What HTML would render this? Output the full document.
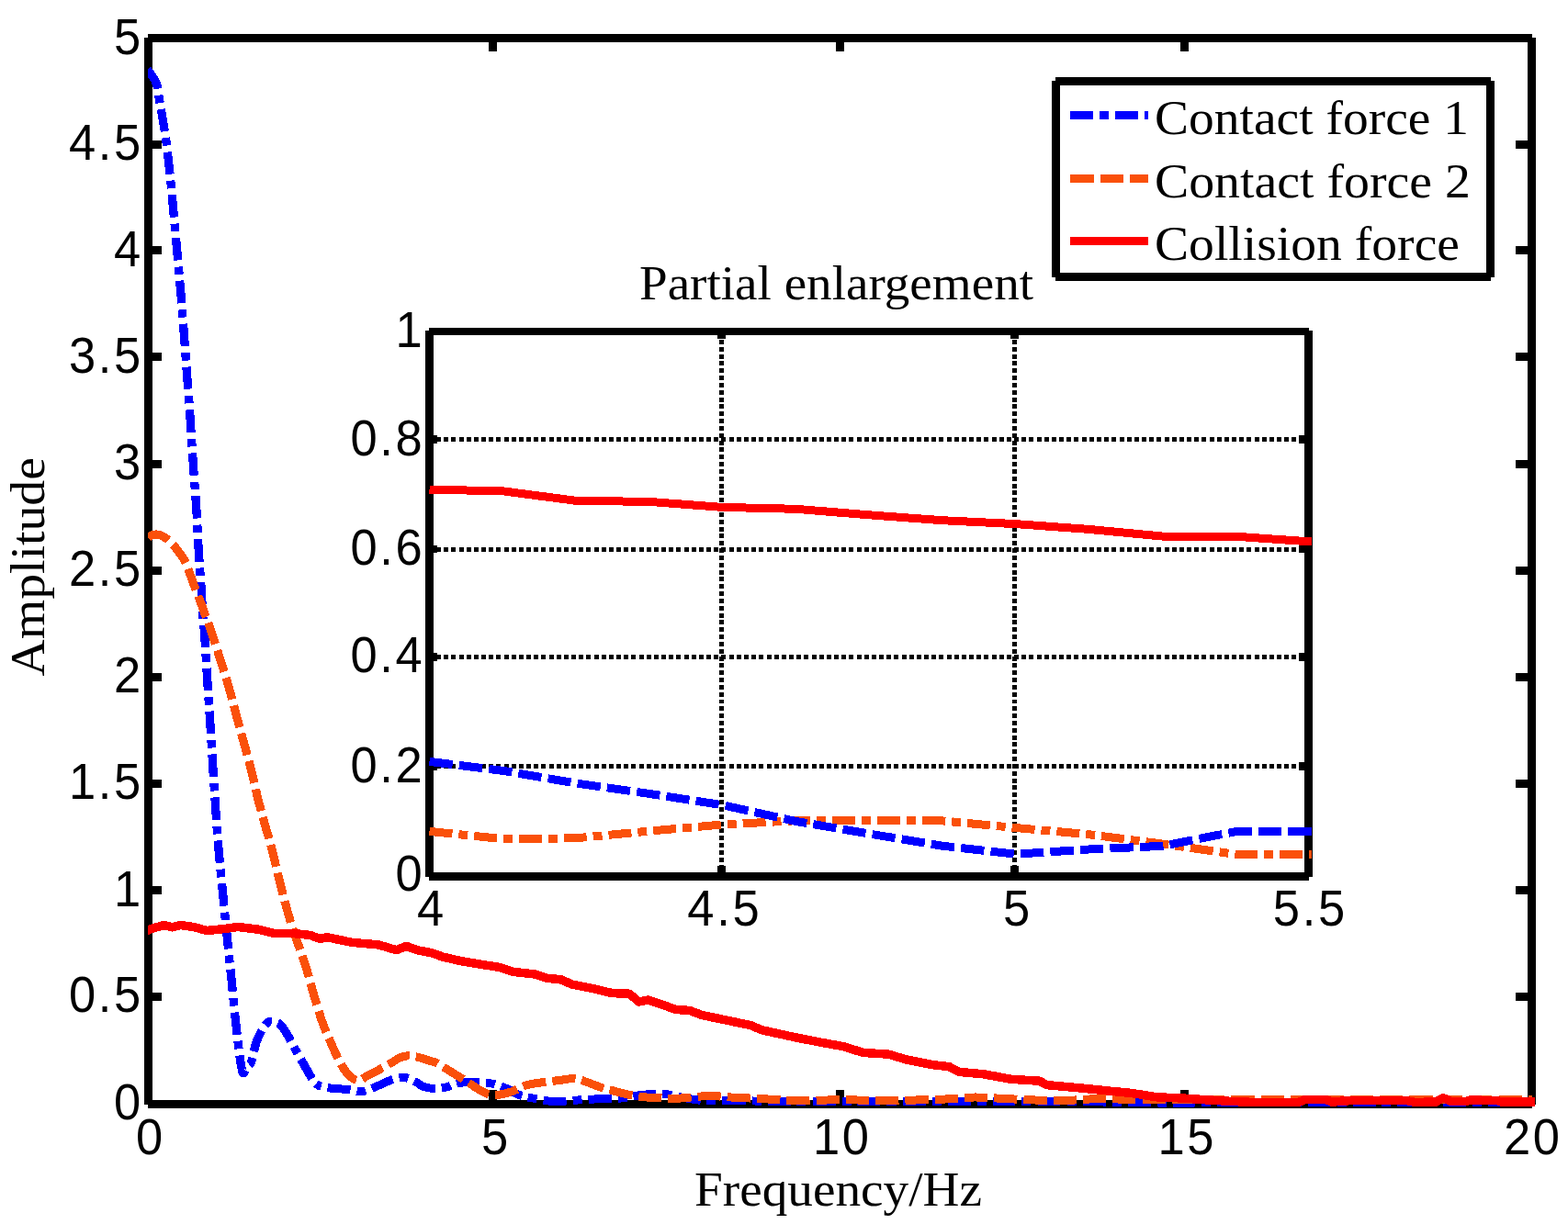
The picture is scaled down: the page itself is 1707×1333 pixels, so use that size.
<!DOCTYPE html>
<html lang="en"><head><meta charset="utf-8"><title>Frequency spectrum</title>
<style>html,body{margin:0;padding:0;background:#fff;overflow:hidden}svg{display:block}.s{font-family:"Liberation Sans",Arial,Helvetica,sans-serif;font-size:55px;fill:#000}.t{font-family:"Liberation Serif","Times New Roman",Times,serif;font-size:52.6px;fill:#000}</style></head><body>
<svg width="1707" height="1333" viewBox="0 0 1707 1333">
<rect width="1707" height="1333" fill="#fff"/>
<g shape-rendering="crispEdges">
<rect x="157" y="41" width="9" height="1162" fill="#000"/>
<rect x="1663" y="41" width="9" height="1162" fill="#000"/>
<rect x="161" y="37" width="1507" height="9" fill="#000"/>
<rect x="161" y="1198" width="1507" height="9" fill="#000"/>
<rect x="166" y="153" width="10" height="9" fill="#000"/>
<rect x="1650" y="153" width="13" height="9" fill="#000"/>
<rect x="166" y="268" width="10" height="9" fill="#000"/>
<rect x="1650" y="268" width="13" height="9" fill="#000"/>
<rect x="166" y="384" width="10" height="9" fill="#000"/>
<rect x="1650" y="384" width="13" height="9" fill="#000"/>
<rect x="166" y="501" width="10" height="9" fill="#000"/>
<rect x="1650" y="501" width="13" height="9" fill="#000"/>
<rect x="166" y="617" width="10" height="9" fill="#000"/>
<rect x="1650" y="617" width="13" height="9" fill="#000"/>
<rect x="166" y="733" width="10" height="9" fill="#000"/>
<rect x="1650" y="733" width="13" height="9" fill="#000"/>
<rect x="166" y="849" width="10" height="9" fill="#000"/>
<rect x="1650" y="849" width="13" height="9" fill="#000"/>
<rect x="166" y="965" width="10" height="9" fill="#000"/>
<rect x="1650" y="965" width="13" height="9" fill="#000"/>
<rect x="166" y="1081" width="10" height="9" fill="#000"/>
<rect x="1650" y="1081" width="13" height="9" fill="#000"/>
<rect x="532" y="46" width="9" height="10" fill="#000"/>
<rect x="532" y="1187" width="9" height="11" fill="#000"/>
<rect x="910" y="46" width="9" height="10" fill="#000"/>
<rect x="910" y="1187" width="9" height="11" fill="#000"/>
<rect x="1285" y="46" width="9" height="10" fill="#000"/>
<rect x="1285" y="1187" width="9" height="11" fill="#000"/>
</g>
<g shape-rendering="crispEdges">
<line x1="476" y1="478.5" x2="1420" y2="478.5" stroke="#000" stroke-width="5" stroke-dasharray="5 3.17" stroke-dashoffset="0.97"/>
<line x1="476" y1="598.5" x2="1420" y2="598.5" stroke="#000" stroke-width="5" stroke-dasharray="5 3.17" stroke-dashoffset="0.97"/>
<line x1="476" y1="715.5" x2="1420" y2="715.5" stroke="#000" stroke-width="5" stroke-dasharray="5 3.17" stroke-dashoffset="0.97"/>
<line x1="476" y1="834.5" x2="1420" y2="834.5" stroke="#000" stroke-width="5" stroke-dasharray="5 3.17" stroke-dashoffset="0.97"/>
<line x1="785.5" y1="370" x2="785.5" y2="950" stroke="#000" stroke-width="5" stroke-dasharray="5 2.83"/>
<line x1="1104.5" y1="370" x2="1104.5" y2="950" stroke="#000" stroke-width="5" stroke-dasharray="5 2.83"/>
<rect x="463" y="360" width="9" height="595" fill="#000"/>
<rect x="1420" y="360" width="9" height="595" fill="#000"/>
<rect x="467" y="357" width="958" height="8" fill="#000"/>
<rect x="467" y="950" width="958" height="9" fill="#000"/>
<rect x="472" y="474" width="4" height="9" fill="#000"/>
<rect x="1414" y="474" width="6" height="9" fill="#000"/>
<rect x="472" y="594" width="4" height="8" fill="#000"/>
<rect x="1414" y="594" width="6" height="8" fill="#000"/>
<rect x="472" y="711" width="4" height="9" fill="#000"/>
<rect x="1414" y="711" width="6" height="9" fill="#000"/>
<rect x="472" y="830" width="4" height="9" fill="#000"/>
<rect x="1414" y="830" width="6" height="9" fill="#000"/>
<rect x="781" y="365" width="9" height="4" fill="#000"/>
<rect x="781" y="943" width="9" height="7" fill="#000"/>
<rect x="1100" y="365" width="9" height="4" fill="#000"/>
<rect x="1100" y="943" width="9" height="7" fill="#000"/>
</g>
<g fill="none" stroke-width="9" stroke-linejoin="round" shape-rendering="crispEdges">
<path d="M467.5 905.4L547.2 913.6L627.0 912.8L706.8 905.1L786.5 898.0L866.2 893.8L946.0 893.6L1025.8 893.9L1105.5 901.5L1185.2 908.7L1265.0 919.0L1344.8 930.3L1428.0 930.7" stroke="#fa500a" stroke-dasharray="25 7 9.9 7" stroke-dashoffset="0"/>
<path d="M467.5 829.4L547.2 839.3L627.0 853.0L706.8 864.4L786.5 876.7L866.2 894.4L946.0 908.0L1025.8 921.2L1105.5 930.2L1185.2 925.0L1265.0 921.4L1344.8 905.7L1428.0 905.4" stroke="#0000ff" stroke-dasharray="25.45 7.13" stroke-dashoffset="0"/>
<path d="M467.5 533.2L547.2 534.8L627.0 545.3L706.8 546.4L786.5 552.4L866.2 554.3L946.0 560.8L1025.8 566.7L1105.5 570.6L1185.2 576.4L1265.0 584.0L1344.8 584.2L1428.0 590.0" stroke="#ff0000"/>
</g>
<clipPath id="cm"><rect x="161" y="37" width="1510" height="1170"/></clipPath>
<g fill="none" stroke-width="9" stroke-linejoin="round" clip-path="url(#cm)" shape-rendering="crispEdges">
<path d="M158.0 72.2C158.6 73.0 160.2 75.3 161.5 77.0C162.8 78.7 164.2 80.6 165.5 82.5C166.8 84.4 168.4 86.6 169.3 88.5C170.2 90.4 170.7 92.1 171.2 94.0C171.7 95.9 172.0 97.8 172.3 100.0C172.7 102.2 172.5 102.5 173.3 107.5C174.1 112.5 175.9 122.3 177.2 130.0C178.5 137.7 179.8 145.8 180.9 153.7C182.0 161.6 182.8 169.9 183.7 177.5C184.5 185.1 184.5 183.9 186.0 199.4C187.5 214.9 190.7 251.0 192.5 270.7C194.3 290.4 195.4 302.0 196.7 317.6C198.0 333.2 199.2 348.9 200.4 364.5C201.6 380.1 202.9 399.6 203.8 411.4C204.7 423.1 204.6 419.4 205.7 435.0C206.8 450.6 209.0 485.5 210.3 505.0C211.6 524.5 212.7 536.4 213.7 552.0C214.7 567.6 215.3 584.8 216.2 598.8C217.0 612.8 218.1 624.4 218.8 636.3C219.6 648.2 220.1 661.2 220.7 670.0C221.3 678.8 221.6 676.3 222.5 688.8C223.4 701.3 224.8 726.3 226.0 745.0C227.2 763.7 228.5 782.2 229.7 801.0C230.9 819.8 231.9 838.2 233.2 857.5C234.5 876.8 235.7 897.1 237.3 917.0C238.9 936.9 241.3 959.2 243.0 977.0C244.7 994.8 246.1 1008.8 247.6 1024.0C249.1 1039.2 250.7 1053.3 252.2 1068.5C253.7 1083.7 255.4 1101.8 256.8 1115.0C258.2 1128.2 259.8 1140.5 260.7 1148.0C261.6 1155.5 261.9 1156.6 262.5 1160.0C263.1 1163.4 263.6 1167.5 264.4 1168.5C265.1 1169.5 266.1 1167.2 267.0 1166.0C267.9 1164.8 268.9 1162.7 270.0 1161.0C271.1 1159.3 272.3 1160.0 273.8 1155.7C275.3 1151.4 277.1 1140.6 279.0 1135.0C280.9 1129.4 283.3 1125.2 285.0 1122.0C286.7 1118.8 287.6 1117.6 289.0 1116.0C290.4 1114.4 291.8 1113.0 293.5 1112.5C295.2 1112.0 297.0 1112.4 299.0 1113.0C301.0 1113.6 303.3 1113.8 305.7 1116.3C308.1 1118.8 310.7 1123.3 313.5 1128.0C316.3 1132.7 319.2 1138.9 322.3 1144.4C325.4 1150.0 329.1 1156.3 332.0 1161.3C334.9 1166.3 337.5 1171.3 339.5 1174.4C341.5 1177.5 342.4 1178.6 344.0 1180.0C345.6 1181.4 345.9 1182.1 348.9 1183.0" stroke="#0000ff" stroke-width="9.3" stroke-dasharray="24.5 7 8.5 7" stroke-dashoffset="-4.00"/>
<path d="M348.9 1183.0C351.9 1183.9 356.7 1184.7 362.0 1185.3C367.3 1185.9 376.0 1186.1 380.7 1186.6C385.4 1187.1 387.5 1188.2 390.0 1188.5C392.5 1188.8 393.6 1188.9 395.8 1188.5C398.0 1188.1 400.2 1187.1 403.0 1186.0C405.8 1184.9 408.5 1183.8 412.6 1182.0C416.7 1180.2 424.0 1176.7 427.6 1175.4C431.2 1174.1 431.8 1174.3 434.0 1174.0C436.2 1173.7 438.6 1173.2 440.8 1173.5C443.0 1173.8 444.8 1174.6 447.0 1175.5C449.2 1176.4 451.7 1177.8 453.9 1179.0C456.1 1180.2 457.5 1182.0 460.0 1183.0C462.5 1184.0 466.2 1184.8 468.9 1185.2C471.6 1185.6 473.1 1185.7 476.0 1185.5C478.9 1185.3 483.3 1184.7 486.3 1183.9C489.3 1183.2 491.5 1181.8 494.0 1181.0C496.5 1180.2 497.6 1179.6 501.3 1179.2C505.0 1178.8 510.7 1178.5 516.3 1178.6C521.9 1178.7 529.4 1179.0 535.0 1180.0C540.6 1181.0 545.0 1182.8 550.0 1184.8C555.0 1186.8 560.0 1190.4 565.0 1192.3C570.0 1194.2 573.7 1194.8 580.0 1196.0C586.3 1197.2 594.5 1199.2 602.6 1199.5C610.8 1199.8 621.4 1198.4 628.9 1198.0C636.4 1197.6 639.8 1197.3 647.6 1197.0C655.4 1196.7 667.1 1196.8 675.8 1196.0C684.5 1195.2 692.2 1193.1 700.0 1192.3C707.8 1191.5 715.8 1191.0 722.7 1191.4C729.6 1191.9 735.2 1193.9 741.4 1195.0C747.6 1196.1 753.7 1197.3 760.0 1198.0C766.3 1198.7 769.0 1198.7 779.0 1198.9C789.0 1199.1 806.5 1198.9 820.0 1199.0C833.5 1199.1 846.7 1199.3 860.0 1199.5C873.3 1199.7 886.7 1200.0 900.0 1200.0C913.3 1200.0 923.3 1199.5 940.0 1199.5C956.7 1199.5 980.0 1200.0 1000.0 1200.0C1020.0 1200.0 1040.0 1199.6 1060.0 1199.5C1080.0 1199.4 1096.7 1199.4 1120.0 1199.5C1143.3 1199.6 1176.7 1199.8 1200.0 1200.0C1223.3 1200.2 1243.3 1200.8 1260.0 1201.0C1276.7 1201.2 1276.7 1201.1 1300.0 1201.0C1323.3 1200.9 1366.7 1200.6 1400.0 1200.5C1433.3 1200.4 1466.7 1200.5 1500.0 1200.5C1533.3 1200.5 1572.1 1200.5 1600.0 1200.5C1627.9 1200.5 1656.2 1200.5 1667.5 1200.5" stroke="#0000ff" stroke-width="9" stroke-dasharray="25 7 10 7" stroke-dashoffset="41.09"/>
<path d="M161.5 585.7C162.1 585.2 163.6 583.6 165.0 583.0C166.4 582.4 168.3 582.0 170.0 582.0C171.7 582.0 173.1 582.2 175.0 583.0C176.9 583.8 179.1 584.9 181.3 586.6C183.5 588.3 185.8 590.6 188.0 593.0C190.2 595.4 192.1 597.5 194.4 600.7C196.7 603.9 199.7 607.6 201.9 612.0C204.1 616.4 205.7 622.0 207.5 627.0C209.3 632.0 211.1 637.0 213.0 642.0C214.9 647.0 217.1 652.3 218.8 657.0C220.6 661.7 222.1 666.3 223.5 670.0C224.9 673.7 224.5 671.6 227.2 679.4C229.8 687.2 235.7 705.1 239.4 717.0C243.2 728.9 246.6 739.7 249.7 750.6C252.8 761.5 255.5 772.5 258.2 782.5C260.9 792.5 263.4 801.3 266.0 810.7C268.6 820.1 271.1 829.0 273.6 839.0C276.1 849.0 278.4 860.4 281.0 870.7C283.6 881.0 286.8 892.6 289.1 900.7C291.4 908.8 291.9 908.5 294.7 919.4C297.5 930.3 302.4 952.2 306.0 966.3C309.6 980.4 313.2 993.5 316.3 1003.8C319.4 1014.1 321.7 1019.9 324.5 1028.0C327.3 1036.1 330.1 1043.4 332.9 1052.5C335.7 1061.6 338.4 1072.5 341.4 1082.5C344.4 1092.5 347.6 1103.8 350.7 1112.6C353.8 1121.3 357.2 1128.4 360.0 1135.0C362.8 1141.6 365.1 1147.0 367.6 1152.0C370.1 1157.0 372.5 1161.4 375.0 1165.0C377.5 1168.6 380.2 1171.6 382.6 1173.5" stroke="#fa500a" stroke-width="9.2" stroke-dasharray="24.4 7" stroke-dashoffset="0.00"/>
<path d="M382.6 1173.5C385.0 1175.4 387.3 1176.1 389.2 1176.4C391.1 1176.7 392.3 1176.3 394.0 1175.5C395.7 1174.7 396.4 1173.5 399.5 1171.7C402.6 1170.0 407.9 1167.5 412.6 1165.0C417.3 1162.5 423.9 1158.8 427.6 1156.6C431.3 1154.4 432.5 1153.1 435.0 1152.0C437.5 1150.9 440.1 1150.2 442.6 1150.0C445.1 1149.8 447.5 1150.2 450.0 1150.5C452.5 1150.8 454.6 1151.1 457.7 1152.0C460.8 1152.9 466.0 1154.8 468.9 1155.7C471.8 1156.6 470.9 1155.4 475.0 1157.6C479.1 1159.8 488.2 1165.5 493.8 1168.9C499.4 1172.3 504.4 1175.4 508.8 1178.2C513.2 1181.0 516.2 1183.5 520.0 1185.7C523.8 1187.9 527.5 1190.3 531.3 1191.4C535.1 1192.5 538.2 1192.8 542.6 1192.3C547.0 1191.8 552.6 1190.3 557.6 1188.6C562.6 1186.9 567.0 1183.7 572.6 1182.0C578.2 1180.3 585.1 1179.5 591.3 1178.6C597.5 1177.7 604.7 1177.1 610.0 1176.4C615.3 1175.7 619.9 1174.7 623.2 1174.5C626.5 1174.3 627.5 1174.9 630.0 1175.5C632.5 1176.1 634.3 1176.8 638.2 1178.2C642.1 1179.6 648.5 1182.3 653.2 1183.9C657.9 1185.5 661.1 1186.2 666.4 1187.6C671.7 1189.0 678.7 1191.1 685.0 1192.3C691.3 1193.5 697.7 1194.4 704.0 1195.0C710.3 1195.6 716.5 1195.8 722.7 1196.0C728.9 1196.2 735.2 1196.3 741.4 1196.0C747.6 1195.7 753.7 1194.7 760.0 1194.2C766.3 1193.8 774.0 1193.2 779.0 1193.3C784.0 1193.4 780.5 1194.1 790.0 1194.7C799.5 1195.3 823.0 1196.3 836.0 1197.0C849.0 1197.7 857.2 1198.7 868.0 1198.9C878.8 1199.1 890.2 1198.2 901.0 1198.0C911.8 1197.8 922.3 1197.8 933.0 1198.0C943.7 1198.2 954.3 1199.0 965.0 1199.0C975.7 1199.0 986.3 1198.3 997.0 1198.0C1007.7 1197.7 1018.3 1197.5 1029.0 1197.0C1039.7 1196.5 1050.5 1195.1 1061.0 1195.0C1071.5 1194.9 1081.5 1195.9 1092.0 1196.4C1102.5 1196.9 1113.2 1197.5 1124.0 1197.9C1134.8 1198.3 1146.2 1198.8 1157.0 1198.6C1167.8 1198.4 1179.3 1197.2 1189.0 1196.9C1198.7 1196.6 1196.5 1196.9 1215.0 1197.0C1233.5 1197.1 1269.2 1197.4 1300.0 1197.5C1330.8 1197.6 1366.7 1197.5 1400.0 1197.5C1433.3 1197.5 1466.7 1197.5 1500.0 1197.5C1533.3 1197.5 1572.1 1197.5 1600.0 1197.5C1627.9 1197.5 1656.2 1197.5 1667.5 1197.5" stroke="#fa500a" stroke-width="9" stroke-dasharray="25.3 7" stroke-dashoffset="19.39"/>
<path d="M161.5 1013.0L165.0 1011.5L168.8 1010.3L178.0 1007.5L187.5 1009.8L197.0 1007.5L212.0 1009.8L225.0 1013.5L243.8 1011.6L258.8 1009.4L281.3 1012.2L298.2 1016.5L318.8 1016.5L337.6 1018.4L348.8 1022.5L356.3 1020.7L382.6 1026.3L412.6 1029.0L431.4 1034.7L442.6 1030.4L453.9 1034.7L468.9 1037.5L482.5 1042.2L501.3 1046.5L523.8 1050.3L544.4 1053.5L557.6 1058.2L582.0 1061.0L595.0 1065.3L610.0 1066.6L623.2 1072.2L647.6 1077.0L666.4 1081.6L685.0 1082.2L695.5 1091.0L705.8 1089.0L722.7 1094.8L735.8 1099.5L750.8 1100.4L764.0 1105.5L780.0 1108.8L817.5 1116.7L828.8 1121.6L864.4 1129.5L892.6 1135.0L918.8 1139.8L939.5 1146.4L967.6 1148.2L986.4 1153.9L1014.5 1159.5L1033.3 1161.7L1044.5 1167.4L1070.8 1169.8L1100.0 1175.2L1132.0 1177.3L1139.4 1181.6L1175.0 1184.8L1212.6 1188.6L1231.3 1190.4L1259.5 1194.8L1287.6 1196.0L1315.8 1198.0L1344.0 1199.6L1362.7 1200.4L1414.0 1200.4L1421.0 1197.6L1444.0 1197.6L1450.0 1200.2L1462.0 1199.0L1480.0 1198.3L1530.0 1198.3L1540.0 1200.3L1563.0 1200.2L1571.0 1195.6L1580.0 1199.6L1596.0 1199.6L1601.0 1197.8L1610.0 1197.8L1614.0 1198.7L1630.0 1198.7L1634.0 1199.9L1667.5 1199.9" stroke="#ff0000" stroke-width="9.5" stroke-linecap="square"/>
</g>
<g shape-rendering="crispEdges">
<rect x="1149" y="84" width="474" height="218" fill="#fff"/>
<rect x="1145" y="88" width="9" height="214" fill="#000"/>
<rect x="1618" y="88" width="9" height="214" fill="#000"/>
<rect x="1149" y="84" width="474" height="9" fill="#000"/>
<rect x="1149" y="297" width="474" height="9" fill="#000"/>
<line x1="1165" y1="125.5" x2="1250" y2="125.5" stroke="#0000ff" stroke-width="9" stroke-dasharray="25 7 10 7"/>
<line x1="1165" y1="194.5" x2="1250" y2="194.5" stroke="#fa500a" stroke-width="9" stroke-dasharray="25.5 7"/>
<line x1="1165" y1="262.5" x2="1250" y2="262.5" stroke="#ff0000" stroke-width="9"/>
</g>
<text class="t" x="1257" y="146" textLength="342" lengthAdjust="spacingAndGlyphs">Contact force 1</text>
<text class="t" x="1257" y="215" textLength="344" lengthAdjust="spacingAndGlyphs">Contact force 2</text>
<text class="t" x="1257" y="283" textLength="332" lengthAdjust="spacingAndGlyphs">Collision force</text>
<text class="t" x="696" y="326" textLength="429" lengthAdjust="spacingAndGlyphs">Partial enlargement</text>
<text class="t" x="756" y="1313" textLength="313" lengthAdjust="spacingAndGlyphs">Frequency/Hz</text>
<text class="t" transform="translate(48 736.5) rotate(-90)" textLength="238.5" lengthAdjust="spacingAndGlyphs">Amplitude</text>
<text class="s" transform="translate(155.97 58.9) scale(0.955 1)" text-anchor="end" letter-spacing="2.8">5</text>
<text class="s" transform="translate(155.97 173.9) scale(0.955 1)" text-anchor="end" letter-spacing="2.8">4.5</text>
<text class="s" transform="translate(155.97 289.9) scale(0.955 1)" text-anchor="end" letter-spacing="2.8">4</text>
<text class="s" transform="translate(155.97 405.9) scale(0.955 1)" text-anchor="end" letter-spacing="2.8">3.5</text>
<text class="s" transform="translate(155.97 521.9) scale(0.955 1)" text-anchor="end" letter-spacing="2.8">3</text>
<text class="s" transform="translate(155.97 637.9) scale(0.955 1)" text-anchor="end" letter-spacing="2.8">2.5</text>
<text class="s" transform="translate(155.97 753.9) scale(0.955 1)" text-anchor="end" letter-spacing="2.8">2</text>
<text class="s" transform="translate(155.97 869.9) scale(0.955 1)" text-anchor="end" letter-spacing="2.8">1.5</text>
<text class="s" transform="translate(155.97 986.9) scale(0.955 1)" text-anchor="end" letter-spacing="2.8">1</text>
<text class="s" transform="translate(155.97 1101.9) scale(0.955 1)" text-anchor="end" letter-spacing="2.8">0.5</text>
<text class="s" transform="translate(155.97 1219.3) scale(0.955 1)" text-anchor="end" letter-spacing="2.8">0</text>
<text class="s" transform="translate(163.84 1256.5) scale(0.955 1)" text-anchor="middle" letter-spacing="2.8">0</text>
<text class="s" transform="translate(539.84 1256.5) scale(0.955 1)" text-anchor="middle" letter-spacing="2.8">5</text>
<text class="s" transform="translate(916.84 1256.5) scale(0.955 1)" text-anchor="middle" letter-spacing="2.8">10</text>
<text class="s" transform="translate(1292.34 1256.5) scale(0.955 1)" text-anchor="middle" letter-spacing="2.8">15</text>
<text class="s" transform="translate(1668.84 1256.5) scale(0.955 1)" text-anchor="middle" letter-spacing="2.8">20</text>
<text class="s" transform="translate(462.47 377.9) scale(0.955 1)" text-anchor="end" letter-spacing="2.8">1</text>
<text class="s" transform="translate(462.47 496.3) scale(0.955 1)" text-anchor="end" letter-spacing="2.8">0.8</text>
<text class="s" transform="translate(462.47 614.8) scale(0.955 1)" text-anchor="end" letter-spacing="2.8">0.6</text>
<text class="s" transform="translate(462.47 732.0) scale(0.955 1)" text-anchor="end" letter-spacing="2.8">0.4</text>
<text class="s" transform="translate(462.47 851.7) scale(0.955 1)" text-anchor="end" letter-spacing="2.8">0.2</text>
<text class="s" transform="translate(462.47 970.1) scale(0.955 1)" text-anchor="end" letter-spacing="2.8">0</text>
<text class="s" transform="translate(469.84 1007.5) scale(0.955 1)" text-anchor="middle" letter-spacing="2.8">4</text>
<text class="s" transform="translate(788.84 1007.5) scale(0.955 1)" text-anchor="middle" letter-spacing="2.8">4.5</text>
<text class="s" transform="translate(1107.84 1007.5) scale(0.955 1)" text-anchor="middle" letter-spacing="2.8">5</text>
<text class="s" transform="translate(1426.34 1007.5) scale(0.955 1)" text-anchor="middle" letter-spacing="2.8">5.5</text>
</svg></body></html>
